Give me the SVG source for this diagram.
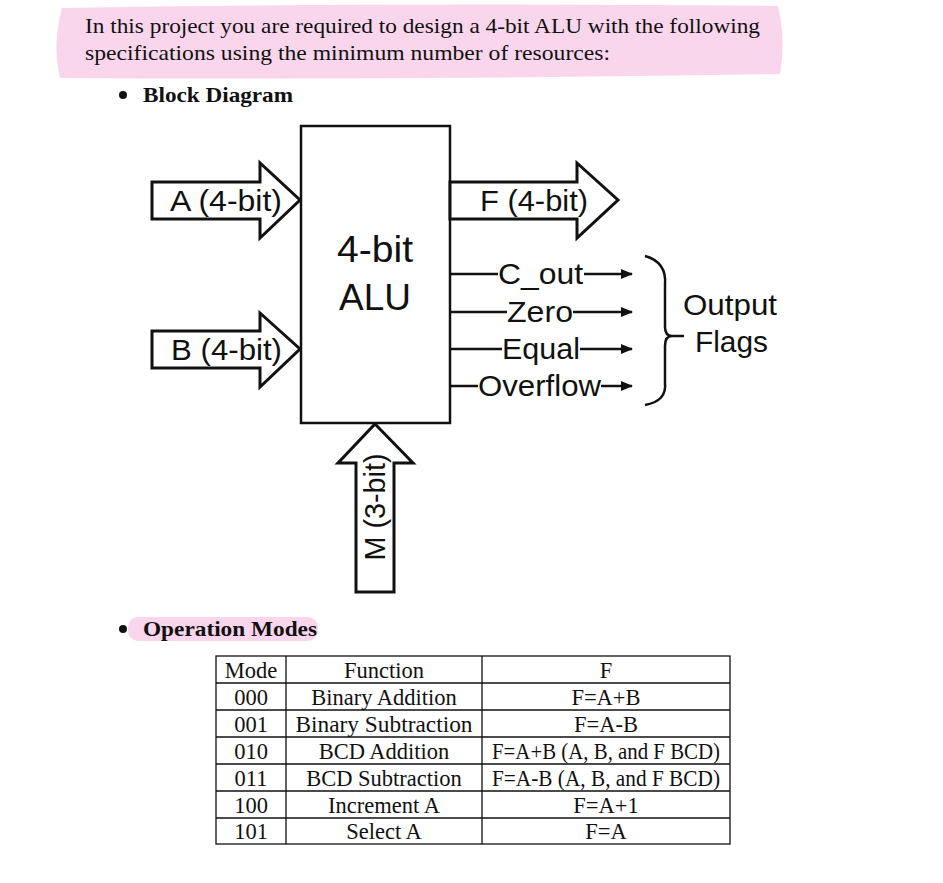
<svg xmlns="http://www.w3.org/2000/svg" width="943" height="883" viewBox="0 0 943 883">
<style>
.s{font-family:"Liberation Serif",serif;fill:#111}
.a{font-family:"Liberation Sans",Arial,sans-serif;fill:#111}
.ln{stroke:#111;stroke-width:2.5;fill:none}
.ar{stroke:#111;stroke-width:3;fill:#fff;stroke-linejoin:miter}
.t{stroke:#111;stroke-width:1.3;fill:none}
</style>
<defs>
<marker id="m" viewBox="0 0 10 10" refX="9" refY="5" markerWidth="5" markerHeight="5" orient="auto"><path d="M0,1 L10,5 L0,9 Z" fill="#111"/></marker>
</defs>
<rect width="943" height="883" fill="#fff"/>
<path d="M62,8 Q400,2 778,6 Q786,40 780,74 Q420,80 60,78 Q52,44 62,8 Z" fill="#f9d6ec"/>
<text class="s" x="85" y="33" font-size="21" textLength="675" lengthAdjust="spacingAndGlyphs">In this project you are required to design a 4-bit ALU with the following</text>
<text class="s" x="85" y="60" font-size="21" textLength="525" lengthAdjust="spacingAndGlyphs">specifications using the minimum number of resources:</text>
<circle cx="123" cy="95" r="4" fill="#111"/>
<text class="s" x="143" y="102" font-size="21" font-weight="bold" textLength="150" lengthAdjust="spacingAndGlyphs">Block Diagram</text>

<g id="alu">
<rect x="301" y="126" width="149" height="297" fill="#fff" stroke="#111" stroke-width="2.5"/>
<text class="a" x="337" y="262" font-size="37" textLength="76" lengthAdjust="spacingAndGlyphs">4-bit</text>
<text class="a" x="339" y="310" font-size="37" textLength="72" lengthAdjust="spacingAndGlyphs">ALU</text>
</g>
<g id="inA">
<path class="ar" d="M152,182 H260 V163 L300,200 L260,238 V219 H152 Z"/>
<text class="a" x="170" y="211" font-size="29" textLength="112" lengthAdjust="spacingAndGlyphs">A (4-bit)</text>
</g>
<g id="inB">
<path class="ar" d="M152,331 H260 V313 L300,349 L260,387 V368 H152 Z"/>
<text class="a" x="171" y="360" font-size="29" textLength="111" lengthAdjust="spacingAndGlyphs">B (4-bit)</text>
</g>
<g id="outF">
<path class="ar" d="M450,182 H577 V163 L618,200 L577,238 V219 H450 Z"/>
<text class="a" x="480" y="211" font-size="29" textLength="108" lengthAdjust="spacingAndGlyphs">F (4-bit)</text>
</g>
<g id="inM">
<path class="ar" d="M375,424 L413,463 H394 V592 H356 V463 H338 Z"/>
<text class="a" font-size="29" text-anchor="middle" textLength="107" lengthAdjust="spacingAndGlyphs" transform="translate(385,507) rotate(-90)">M (3-bit)</text>
</g>
<g id="connectors">
<path class="ln" d="M450,274 H498 M450,312 H507 M450,349 H502 M450,386 H478"/>
<path class="ln" marker-end="url(#m)" d="M584,274 H632"/>
<path class="ln" marker-end="url(#m)" d="M573,312 H632"/>
<path class="ln" marker-end="url(#m)" d="M580,349 H632"/>
<path class="ln" marker-end="url(#m)" d="M601,386 H632"/>
</g>
<g id="flags">
<text class="a" x="498" y="284" font-size="29" textLength="85" lengthAdjust="spacingAndGlyphs">C_out</text>
<text class="a" x="507" y="322" font-size="29" textLength="66" lengthAdjust="spacingAndGlyphs">Zero</text>
<text class="a" x="502" y="359" font-size="29" textLength="78" lengthAdjust="spacingAndGlyphs">Equal</text>
<text class="a" x="478" y="396" font-size="29" textLength="123" lengthAdjust="spacingAndGlyphs">Overflow</text>
</g>
<g id="brace">
<path class="ln" d="M645,256 Q667,262 665,285 V327 Q665,336 672,336 H684 M672,336 Q665,336 665,346 V383 Q667,401 645,405"/>
<text class="a" x="683" y="315" font-size="29" textLength="94" lengthAdjust="spacingAndGlyphs">Output</text>
<text class="a" x="695" y="352" font-size="29" textLength="73" lengthAdjust="spacingAndGlyphs">Flags</text>
</g>

<rect x="128" y="617" width="190" height="24" rx="10" fill="#f9d6ec"/>
<circle cx="123" cy="629" r="4" fill="#111"/>
<text class="s" x="143" y="636" font-size="21" font-weight="bold" textLength="174" lengthAdjust="spacingAndGlyphs">Operation Modes</text>

<g id="table">
<rect x="216" y="656" width="514" height="188" fill="#fff" stroke="#111" stroke-width="1.3"/>
<path class="t" d="M286,656 V844 M482,656 V844 M216,683 H730 M216,710 H730 M216,737 H730 M216,764 H730 M216,791 H730 M216,818 H730"/>
<g class="s" font-size="22.5" text-anchor="middle">
<text x="251" y="678">Mode</text><text x="384" y="678">Function</text><text x="606" y="678">F</text>
<text x="251" y="705">000</text><text x="384" y="705">Binary Addition</text><text x="606" y="705">F=A+B</text>
<text x="251" y="732">001</text><text x="384" y="732" textLength="177" lengthAdjust="spacingAndGlyphs">Binary Subtraction</text><text x="606" y="732">F=A-B</text>
<text x="251" y="759">010</text><text x="384" y="759">BCD Addition</text><text x="606" y="759" textLength="228" lengthAdjust="spacingAndGlyphs">F=A+B (A, B, and F BCD)</text>
<text x="251" y="786">011</text><text x="384" y="786">BCD Subtraction</text><text x="606" y="786" textLength="228" lengthAdjust="spacingAndGlyphs">F=A-B (A, B, and F BCD)</text>
<text x="251" y="813">100</text><text x="384" y="813">Increment A</text><text x="606" y="813">F=A+1</text>
<text x="251" y="839">101</text><text x="384" y="839">Select A</text><text x="606" y="839">F=A</text>
</g>
</g>
</svg>
